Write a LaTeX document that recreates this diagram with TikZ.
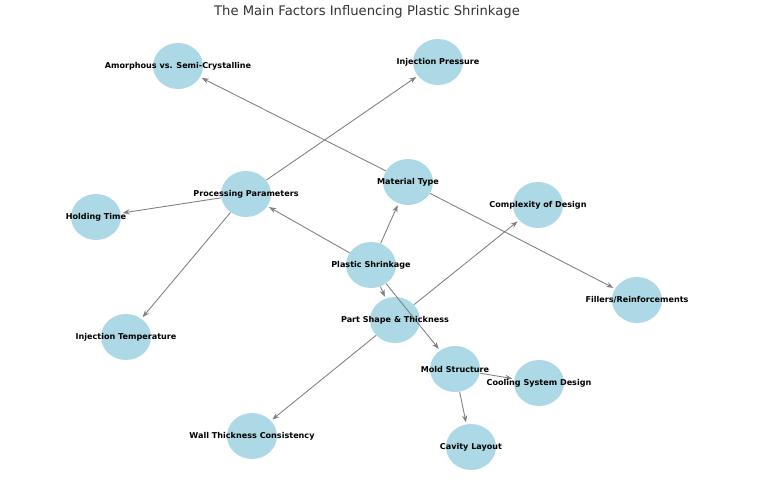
\documentclass[tikz,border=0pt]{standalone}
\usepackage{fontspec}
\setmainfont{DejaVu Sans}
\usetikzlibrary{shapes.geometric,arrows.meta}
\definecolor{nodeblue}{RGB}{173,216,230}
\begin{document}
\begin{tikzpicture}[x=0.02cm,y=-0.02cm,
  bub/.style={ellipse,fill=nodeblue,minimum width=1cm,minimum height=0.92cm,inner sep=0pt},
  lab/.style={font=\bfseries\fontsize{4.6}{5}\selectfont,inner sep=0pt},
  edge/.style={draw=gray,line width=0.5pt,-{Stealth[length=4pt,width=3pt]},shorten >=1pt}]
\useasboundingbox (0,0) rectangle (768,480);
\node[font=\fontsize{7.5}{9}\selectfont,text=black!80] (title) at (367,12) {The Main Factors Influencing Plastic Shrinkage};
\node[bub] (ps) at (371,265) {};
\node[bub] (mt) at (408,182) {};
\node[bub] (pp) at (246,194) {};
\node[bub] (pst) at (395,320) {};
\node[bub] (ms) at (455,369) {};
\node[bub] (am) at (178,66) {};
\node[bub] (ip) at (438,62) {};
\node[bub] (ht) at (96,217) {};
\node[bub] (it) at (126,337) {};
\node[bub] (cd) at (538,205) {};
\node[bub] (fr) at (637,300) {};
\node[bub] (cs) at (539,383) {};
\node[bub] (wt) at (252,436) {};
\node[bub] (cl) at (471,447) {};
\foreach \a/\b in {ps/mt,ps/pp,ps/pst,ps/ms,mt/am,mt/fr,pp/ip,pp/ht,pp/it,pst/cd,pst/wt,ms/cs,ms/cl}
  \draw[edge] (\a) -- (\b);
\node[lab] at (ps) {Plastic Shrinkage};
\node[lab] at (mt) {Material Type};
\node[lab] at (pp) {Processing Parameters};
\node[lab] at (pst) {Part Shape \& Thickness};
\node[lab] at (ms) {Mold Structure};
\node[lab] at (am) {Amorphous vs. Semi-Crystalline};
\node[lab] at (ip) {Injection Pressure};
\node[lab] at (ht) {Holding Time};
\node[lab] at (it) {Injection Temperature};
\node[lab] at (cd) {Complexity of Design};
\node[lab] at (fr) {Fillers/Reinforcements};
\node[lab] at (cs) {Cooling System Design};
\node[lab] at (wt) {Wall Thickness Consistency};
\node[lab] at (cl) {Cavity Layout};
\end{tikzpicture}
\end{document}
